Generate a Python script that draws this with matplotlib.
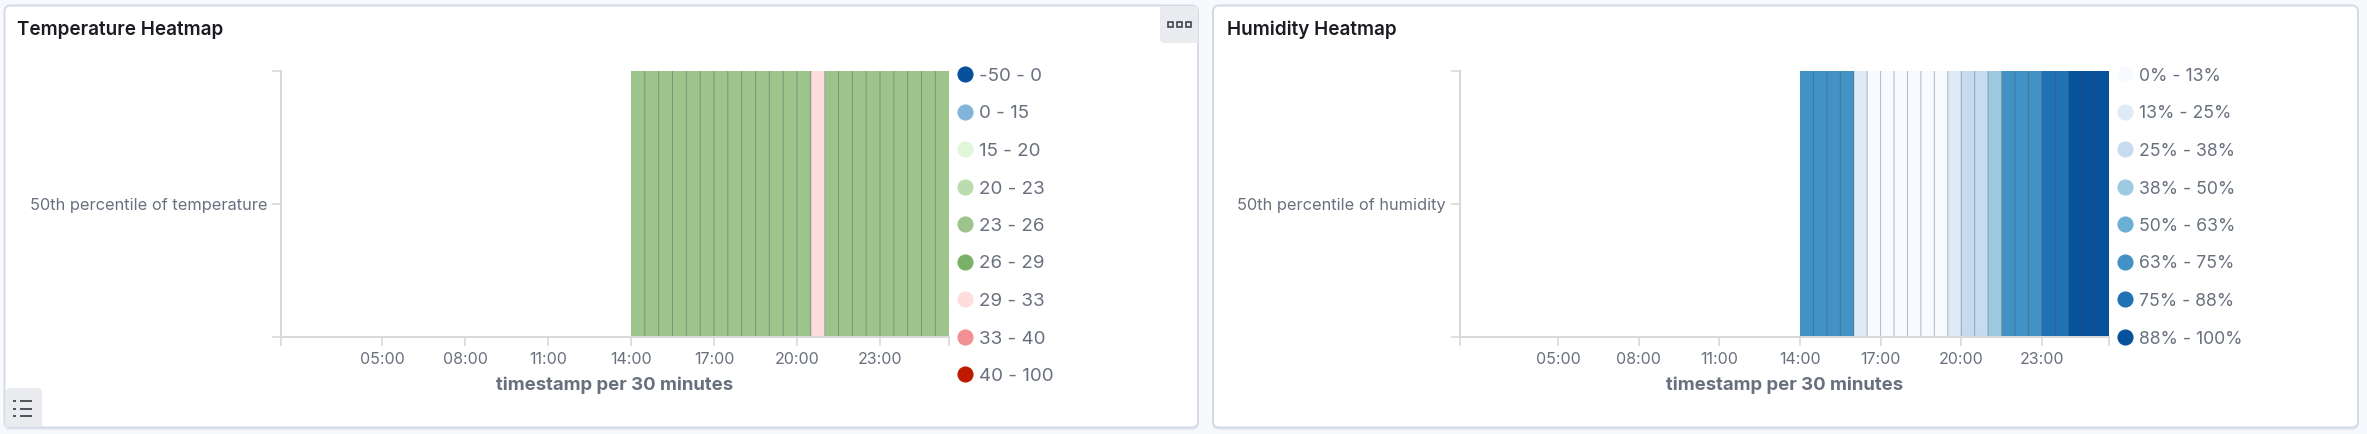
import matplotlib
matplotlib.use("Agg")
import matplotlib.pyplot as plt
from matplotlib.colors import ListedColormap, BoundaryNorm
from matplotlib.patches import FancyBboxPatch, Rectangle
import numpy as np

W, H = 2367, 434
plt.rcParams['font.family'] = ['Inter', 'DejaVu Sans']

# ---- data ----
bin_hours = [14 + 0.5 * i for i in range(24)]          # 14:00 .. 25:30 (bin edges)
tick_hours = [5, 8, 11, 14, 17, 20, 23]
tick_labels = ['05:00', '08:00', '11:00', '14:00', '17:00', '20:00', '23:00']

temp_values = [25, 25, 25, 24, 25, 25, 25, 25, 24, 25, 25, 25, 25, 31,
               25, 25, 25, 24, 25, 25, 25, 25, 24]
temp_bounds = [-50, 0, 15, 20, 23, 26, 29, 33, 40, 100]
temp_colors = ['#08509c', '#82b3d9', '#e0f7da', '#bbdcad', '#9dc48b', '#7bb068',
               '#fddedc', '#f29093', '#bd1a00']
temp_labels = ['-50 - 0', '0 - 15', '15 - 20', '20 - 23', '23 - 26', '26 - 29',
               '29 - 33', '33 - 40', '40 - 100']

hum_values = [70, 69, 68, 66, 20, 10, 8, 7, 6, 8, 11, 18, 30, 33, 44,
              66, 68, 72, 80, 84, 90, 93, 96]
hum_bounds = [0, 12.5, 25, 37.5, 50, 62.5, 75, 87.5, 100]
hum_colors = ['#f7fbff', '#deebf7', '#c6dbef', '#9ecae1', '#6baed6', '#4292c6',
              '#2171b5', '#08519c']
hum_labels = ['0% - 13%', '13% - 25%', '25% - 38%', '38% - 50%', '50% - 63%',
              '63% - 75%', '75% - 88%', '88% - 100%']

# ---- style ----
AXIS = '#d9d9d9'
TEXT = '#69707d'
BTN = '#e9ebee'
BORDER = '#d3dae6'
PAGE = '#f7f9fc'

fig = plt.figure(figsize=(W / 100, H / 100), dpi=100, facecolor=PAGE)
bg = fig.add_axes([0, 0, 1, 1], zorder=0)
bg.set_xlim(0, W); bg.set_ylim(H, 0); bg.axis('off')


def rr(x0, y0, x1, y1, r, **kw):
    bg.add_patch(FancyBboxPatch((x0 + r, y0 + r), x1 - x0 - 2 * r, y1 - y0 - 2 * r,
                                boxstyle=f'round,pad={r},rounding_size={r}', **kw))


def panel(x0, x1, y0=5.5, y1=427.5):
    for off, col in [(3, '#eef1f7'), (1.5, '#e4e9f2')]:
        rr(x0 - 0.5, y0, x1 + 0.5, y1 + off, 6, fc=col, ec='none')
    rr(x0, y0, x1, y1, 6, fc='white', ec=BORDER, lw=1.4)


def chart(title, title_x, ylabel, ax_l, ax_r, h0_px, h_px, values, bounds, colors,
          labels, dot_x, text_x, legend_size):
    ax_t, ax_b = 70.7, 336.8
    ax = fig.add_axes([ax_l / W, 1 - ax_b / H, (ax_r - ax_l) / W, (ax_b - ax_t) / H], zorder=2)
    # x axis scale is hours: h_px pixels per hour, 14:00 at h0_px
    ax.set_xlim(14 + (ax_l - h0_px) / h_px, 14 + (ax_r - h0_px) / h_px)
    ax.set_ylim(0, 1)
    cmap = ListedColormap(colors)
    norm = BoundaryNorm(bounds, cmap.N)
    edges = np.array(bin_hours)
    ax.pcolormesh(edges, [0, 1], np.array([values], dtype=float), cmap=cmap, norm=norm,
                  linewidth=0, antialiased=False, clip_on=False)
    ax.vlines(edges[1:-1], 0, 1, colors='#444a52', linewidth=0.72, alpha=0.38, snap=False)
    for s in ['top', 'right']:
        ax.spines[s].set_visible(False)
    for s in ['left', 'bottom']:
        ax.spines[s].set_color(AXIS)
        ax.spines[s].set_linewidth(1.45)
        ax.spines[s].set_zorder(5)
    ax.set_xticks(tick_hours + [ax.get_xlim()[0], ax.get_xlim()[1]],
                  tick_labels + ['', ''], color=TEXT, fontsize=11.5)
    ax.set_yticks([0, 0.5, 1], ['', ylabel, ''], color=TEXT, fontsize=11.8)
    ax.tick_params(axis='x', length=6.5, width=1.2, color=AXIS, pad=4.5)
    ax.tick_params(axis='y', length=6.5, width=1.2, color=AXIS, pad=3.5)
    ax.patch.set_alpha(0)
    # x-axis title
    bg.text((ax_l + ax_r) / 2, 385, 'timestamp per 30 minutes',
            ha='center', va='center', color=TEXT, fontsize=13.4, fontweight='bold')
    # panel title
    bg.text(title_x, 30, title, ha='left', va='center', color='#1a1c21',
            fontsize=13.6, fontweight='semibold')
    # legend
    for i, (c, lab) in enumerate(zip(colors, labels)):
        y = 74 + 37.5 * i
        bg.scatter([dot_x], [y], s=135, c=[c], linewidths=0, zorder=3)
        bg.text(text_x, y + 0.5, lab, ha='left', va='center_baseline', color=TEXT,
                fontsize=legend_size)
    return ax


panel(4.5, 1198)
panel(1213, 2358)

chart('Temperature Heatmap', 17, '50th percentile of temperature', 281, 949, 631, 83 / 3,
      temp_values, temp_bounds, temp_colors, temp_labels, 965, 979, 13.5)
chart('Humidity Heatmap', 1227, '50th percentile of humidity', 1460, 2109, 1800, 80.6 / 3,
      hum_values, hum_bounds, hum_colors, hum_labels, 2125, 2139, 12.7)

# panel chrome: options button (top right) and legend toggle (bottom left)
rr(1160, 6, 1197.5, 43, 5, fc=BTN, ec='none')
bg.add_patch(Rectangle((1160, 6), 37.5, 12, fc=BTN, ec='none'))
bg.add_patch(Rectangle((1175, 20), 22.5, 23, fc=BTN, ec='none'))
for x in [1167.5, 1176.5, 1186.0]:
    bg.add_patch(Rectangle((x, 21.8), 5, 5, fc='none', ec='#343741', lw=1.1))
rr(5.2, 388, 42, 426.8, 5, fc=BTN, ec='none')
bg.add_patch(Rectangle((5.2, 400), 36.8, 26.8, fc=BTN, ec='none'))
bg.add_patch(Rectangle((20, 415), 22, 11.8, fc=BTN, ec='none'))
for y in [401, 408.5, 416]:
    bg.plot([13, 16], [y, y], color='#343741', lw=1.2, solid_capstyle='butt')
    bg.plot([19.5, 32], [y, y], color='#343741', lw=1.2, solid_capstyle='butt')

fig.savefig('out.png', dpi=100, facecolor=PAGE)
